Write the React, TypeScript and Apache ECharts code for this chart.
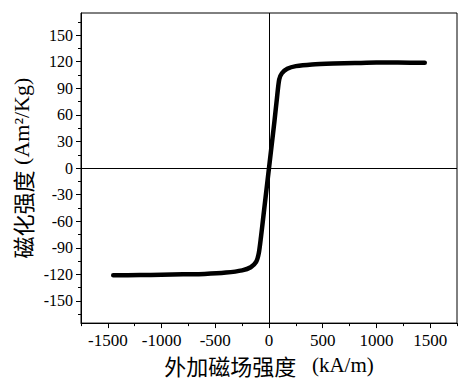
import React, { useEffect, useRef } from "react";
import * as echarts from "echarts";

const fieldValues = [-1450, -1200, -1000, -800, -600, -400, -250, -170, -120, -95, -75, -50, -25, 0, 25, 50, 75, 95, 120, 170, 250, 400, 600, 800, 1000, 1200, 1450];
const magValues = [-121, -120.8, -120.5, -120, -119.5, -118, -115.5, -112, -106, -96, -78, -52, -26, 0, 26, 52, 80, 100, 107, 112, 115, 117, 118, 118.5, 119, 119, 118.8];

const xMajorTicks = [-1500, -1000, -500, 0, 500, 1000, 1500];
const xMinorTicks = [-1750, -1250, -750, -250, 250, 750, 1250, 1750];
const yMajorTicks = [-150, -120, -90, -60, -30, 0, 30, 60, 90, 120, 150];
const yMinorTicks = [-165, -135, -105, -75, -45, -15, 15, 45, 75, 105, 135, 165];

const SERIF = "'Liberation Serif', 'Noto Sans CJK SC', serif";
const CJK = "'Noto Sans CJK SC', sans-serif";

export default function App() {
  const ref = useRef<HTMLDivElement>(null);
  useEffect(() => {
    if (!ref.current) return;
    const chart = echarts.init(ref.current, null, { renderer: "svg" });
    const data = fieldValues.map((x, i) => [x, magValues[i]]);
    const baseAxisLine = { show: true, lineStyle: { color: "#000", width: 1 } };
    const richX = {
      c: { fontFamily: CJK, fontSize: 22, color: "#000" },
      s: { fontFamily: SERIF, fontSize: 21, color: "#000" },
    };
    const richY = {
      c: { fontFamily: CJK, fontSize: 22, color: "#000" },
      s: { fontFamily: SERIF, fontSize: 22, color: "#000" },
    };
    chart.setOption({
      animation: false,
      backgroundColor: "#fff",
      grid: { left: 81, right: 17, top: 13, bottom: 55, show: true, borderColor: "#000", borderWidth: 1, backgroundColor: "transparent" },
      xAxis: [
        {
          type: "value",
          min: -1750,
          max: 1750,
          position: "bottom",
          axisLine: { ...baseAxisLine, onZero: false },
          splitLine: { show: false },
          axisTick: { show: true, length: 5, inside: false, customValues: xMajorTicks, lineStyle: { color: "#000" } },
          axisLabel: { show: true, customValues: xMajorTicks, formatter: (v: number) => String(v), color: "#000", fontFamily: SERIF, fontSize: 17, margin: 9 },
          name: "{c|外加磁场强度}   {s|(kA/m)}",
          nameLocation: "middle",
          nameGap: 27,
          nameTextStyle: { color: "#000", fontFamily: SERIF, fontSize: 21, rich: richX },
        },
        {
          type: "value",
          min: -1750,
          max: 1750,
          position: "bottom",
          axisLine: { show: false, onZero: false },
          splitLine: { show: false },
          axisTick: { show: true, length: 3, inside: false, customValues: xMinorTicks, lineStyle: { color: "#000" } },
          axisLabel: { show: false },
        },
      ],
      yAxis: [
        {
          type: "value",
          min: -175,
          max: 175,
          position: "left",
          axisLine: { ...baseAxisLine, onZero: false },
          splitLine: { show: false },
          axisTick: { show: true, length: 5, inside: false, customValues: yMajorTicks, lineStyle: { color: "#000" } },
          axisLabel: { show: true, customValues: yMajorTicks, formatter: (v: number) => String(v), color: "#000", fontFamily: SERIF, fontSize: 16, margin: 8 },
          name: "{c|磁化强度} {s|(Am²/Kg)}",
          nameLocation: "middle",
          nameRotate: 90,
          nameGap: 36,
          nameTextStyle: { color: "#000", fontFamily: SERIF, fontSize: 22, rich: richY },
        },
        {
          type: "value",
          min: -175,
          max: 175,
          position: "left",
          axisLine: { show: false, onZero: false },
          splitLine: { show: false },
          axisTick: { show: true, length: 3, inside: false, customValues: yMinorTicks, lineStyle: { color: "#000" } },
          axisLabel: { show: false },
        },
      ],
      series: [
        {
          type: "line",
          data,
          showSymbol: false,
          smooth: 0.25,
          lineStyle: { color: "#000", width: 4.5, cap: "round", join: "round" },
          markLine: {
            silent: true,
            symbol: "none",
            label: { show: false },
            lineStyle: { color: "#000", width: 1, type: "solid" },
            data: [{ xAxis: 0 }, { yAxis: 0 }],
          },
          z: 3,
        },
      ],
    });
    return () => chart.dispose();
  }, []);
  return <div ref={ref} style={{ position: "fixed", left: 0, top: 0, width: 474, height: 381 }} />;
}
